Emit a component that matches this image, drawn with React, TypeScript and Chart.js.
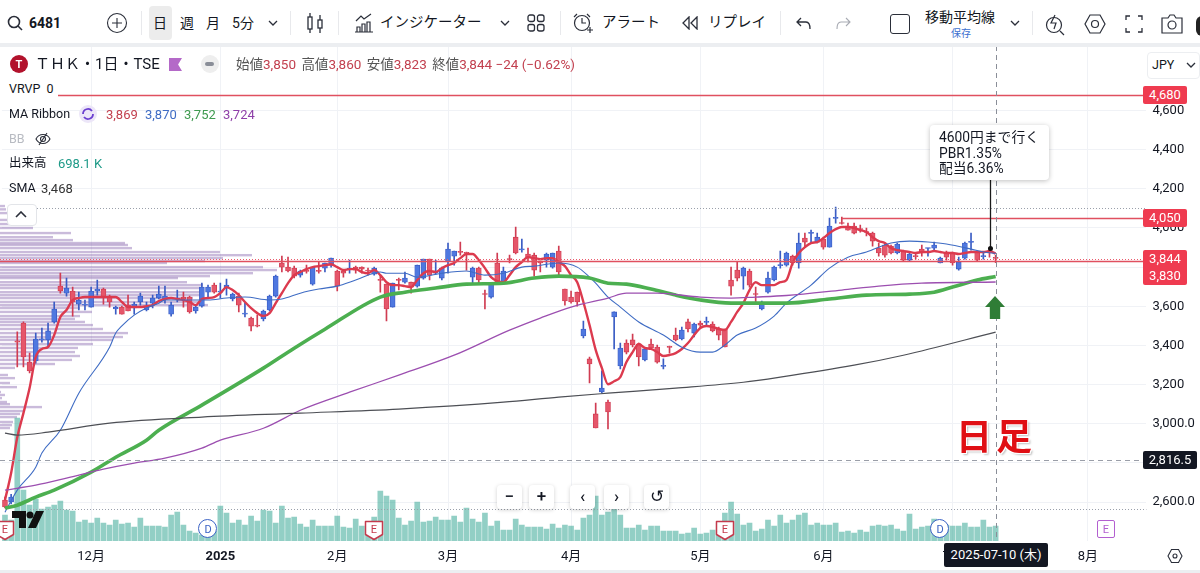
import { useEffect, useRef } from "react";
import { Chart, registerables } from "chart.js";

Chart.register(...registerables);

// daily candles, oldest first (last one is 2025-07-10)
const opens = [2610,2600,3423,3514,3315,3321,3428,3428,3520,3703,3667,3678,3611,3606,3596,3678,3688,3647,3586,3596,3606,3591,3622,3581,3616,3642,3637,3560,3637,3647,3647,3576,3601,3672,3708,3672,3693,3637,3652,3560,3540,3504,3535,3581,3652,3821,3800,3795,3759,3782,3713,3782,3795,3810,3780,3780,3790,3800,3800,3785,3764,3736,3713,3596,3736,3723,3723,3703,3744,3841,3769,3744,3826,3856,3878,3873,3749,3795,3664,3647,3821,3718,3842,3953,3888,3867,3861,3831,3836,3800,3882,3688,3647,3672,3448,3331,3050,3162,3111,3545,3295,3412,3428,3407,3326,3407,3392,3293,3394,3453,3433,3520,3463,3514,3518,3509,3484,3484,3734,3785,3754,3780,3664,3586,3672,3734,3808,3810,3856,3821,3948,3972,3928,3943,3902,4049,4027,4010,4010,3996,3981,3974,3897,3913,3907,3872,3882,3836,3858,3892,3895,3897,3821,3877,3872,3790,3846,3926,3877,3854,3882,3850];
const highs = [2625,2640,3469,3520,3361,3463,3489,3514,3622,3769,3744,3698,3672,3632,3698,3734,3693,3657,3601,3601,3657,3622,3667,3622,3657,3703,3703,3622,3683,3672,3652,3606,3718,3708,3718,3718,3739,3667,3667,3616,3545,3555,3581,3657,3759,3856,3851,3805,3785,3810,3800,3826,3821,3846,3785,3785,3836,3805,3802,3795,3800,3759,3713,3718,3744,3775,3723,3810,3841,3841,3836,3800,3923,3882,3928,3877,3800,3800,3683,3718,3872,3800,3861,4005,3943,3897,3872,3831,3872,3872,3907,3688,3678,3672,3525,3341,3106,3270,3121,3571,3412,3428,3458,3412,3387,3433,3402,3331,3397,3489,3494,3535,3514,3525,3545,3520,3494,3484,3800,3826,3800,3790,3698,3627,3775,3805,3882,3877,3861,3974,3974,3989,3974,3953,4051,4107,4056,4025,4025,4015,4000,3979,3923,3923,3913,3923,3887,3872,3872,3913,3897,3928,3851,3882,3877,3851,3928,3974,3882,3872,3897,3860];
const lows = [2570,2590,3290,3290,3259,3310,3417,3397,3514,3667,3652,3550,3581,3581,3596,3657,3611,3596,3560,3560,3576,3560,3606,3576,3591,3637,3616,3550,3622,3596,3565,3565,3596,3647,3667,3642,3657,3627,3571,3545,3474,3494,3525,3576,3647,3775,3775,3745,3749,3769,3708,3769,3775,3800,3678,3749,3769,3769,3769,3759,3759,3672,3525,3596,3683,3718,3667,3698,3739,3734,3764,3734,3769,3810,3861,3785,3718,3718,3586,3642,3718,3713,3821,3867,3877,3826,3754,3775,3800,3795,3759,3606,3616,3601,3438,3208,2978,3157,2973,3382,3280,3356,3392,3295,3321,3382,3310,3280,3361,3423,3428,3469,3443,3489,3499,3469,3428,3392,3657,3729,3688,3698,3616,3581,3667,3729,3795,3805,3810,3795,3902,3923,3923,3892,3902,4025,4020,3989,3969,3979,3959,3907,3856,3851,3867,3867,3831,3831,3841,3856,3856,3887,3821,3836,3810,3785,3841,3887,3831,3841,3851,3823];
const closes = [2575,2625,3417,3341,3270,3433,3433,3474,3586,3678,3693,3622,3632,3611,3678,3688,3647,3622,3596,3560,3576,3611,3652,3601,3642,3662,3652,3606,3642,3637,3571,3596,3698,3698,3672,3678,3708,3662,3606,3565,3499,3499,3576,3652,3754,3800,3780,3754,3780,3778,3800,3778,3821,3846,3703,3769,3795,3785,3790,3780,3795,3732,3586,3718,3732,3744,3698,3810,3841,3759,3775,3795,3892,3882,3875,3870,3795,3734,3660,3713,3723,3780,3838,3872,3893,3851,3785,3821,3867,3872,3775,3627,3622,3622,3484,3305,2978,3182,3060,3571,3387,3366,3402,3341,3382,3387,3315,3297,3390,3428,3479,3484,3509,3504,3522,3474,3453,3392,3703,3744,3795,3708,3660,3616,3744,3800,3812,3872,3821,3923,3928,3976,3953,3902,4010,4053,4023,3989,3974,3992,3977,3933,3872,3861,3872,3918,3836,3867,3854,3872,3899,3913,3846,3851,3821,3826,3923,3930,3836,3858,3872,3844];
const volumes = [1209,977,5720,2372,1674,1953,1488,1581,1674,1860,1442,1395,884,977,837,1070,837,744,977,791,837,651,1070,698,698,698,651,1209,1349,744,465,372,279,465,465,1628,1302,837,977,744,1163,930,1442,1395,837,1628,1070,1116,791,651,977,698,698,698,1163,651,605,1023,698,837,1116,2325,2093,1907,1070,744,930,1814,884,930,1116,977,977,1163,884,1535,1023,884,1302,698,930,512,512,1023,744,651,651,651,558,791,605,744,698,512,1070,1209,2093,1209,1349,1488,1209,605,605,744,512,698,698,465,465,465,326,372,605,326,372,512,837,1302,1814,1256,744,837,465,558,977,698,1209,837,977,1209,1302,744,837,744,744,837,419,465,372,512,419,698,744,698,744,558,465,1256,558,651,698,1023,698,744,698,698,837,651,651,977,651,698];

// MA ribbon and SMA at these days
const fastMa = [2610,2748,2931,3054,3182,3341,3382,3392,3453,3545,3581,3632,3642,3647,3647,3647,3647,3647,3647,3622,3596,3596,3596,3601,3606,3627,3637,3642,3637,3632,3622,3606,3637,3642,3647,3667,3698,3683,3657,3622,3591,3565,3550,3565,3616,3667,3718,3759,3775,3790,3800,3805,3810,3815,3800,3785,3790,3790,3775,3769,3785,3759,3723,3708,3708,3703,3698,3734,3769,3780,3775,3795,3810,3821,3846,3867,3867,3836,3795,3749,3729,3723,3759,3800,3826,3851,3846,3841,3846,3846,3826,3805,3759,3723,3622,3504,3377,3285,3202,3217,3238,3315,3366,3407,3387,3382,3366,3346,3351,3361,3382,3412,3453,3489,3499,3494,3484,3479,3520,3571,3616,3683,3723,3708,3708,3708,3723,3734,3821,3872,3902,3923,3928,3948,3974,3994,4005,4005,4000,3989,3979,3953,3933,3923,3897,3887,3882,3877,3872,3877,3877,3882,3877,3872,3872,3867,3872,3877,3877,3877,3882,3869];
const blueDays = [0,2,5,6,9,12,17,18,19,21,23,25,26,30,33,36,39,43,45,48,51,54,57,61,62,65,67,71,75,78,81,84,86,90,93,95,96,98,100,103,107,110,113,115,117,119,122,125,127,131,134,137,140,144,147,150,153,157,159,161];
const blueMa = [2548,2661,2778,2850,2967,3156,3391,3463,3500,3555,3591,3616,3632,3632,3632,3642,3647,3632,3637,3667,3688,3703,3734,3775,3769,3769,3749,3769,3780,3759,3769,3800,3805,3821,3800,3749,3718,3647,3596,3520,3453,3391,3366,3366,3402,3453,3489,3550,3616,3708,3795,3851,3877,3923,3933,3928,3918,3892,3877,3870];
const greenDays = [0,2,5,8,14,18,23,25,32,42,47,52,61,65,70,75,81,86,90,95,98,101,105,109,113,118,122,127,134,140,147,151,154,158,161];
const greenMa = [2569,2584,2625,2661,2753,2829,2916,2967,3095,3284,3386,3483,3647,3672,3693,3713,3718,3744,3754,3744,3718,3713,3688,3657,3632,3616,3616,3616,3637,3657,3662,3672,3698,3734,3752];
const purpleDays = [0,5,10,16,21,26,32,35,42,48,56,64,73,82,87,92,98,101,106,113,118,122,127,136,142,149,161];
const purpleMa = [2661,2686,2722,2768,2799,2824,2875,2916,2977,3069,3161,3248,3350,3478,3540,3596,3642,3667,3667,3647,3642,3647,3655,3683,3703,3718,3724];
const smaDays = [0,2,7,17,32,48,64,81,90,98,109,120,126,138,146,161];
const smaLine = [2952,2942,2957,3003,3034,3054,3075,3110,3136,3156,3182,3212,3238,3299,3350,3468];

// visible range volume profile
const vrvpPrices = [4112,4095,4076,4041,4020,4000,3974,3953,3938,3923,3913,3897,3877,3861,3846,3831,3821,3800,3785,3769,3754,3744,3723,3708,3693,3672,3657,3642,3622,3606,3591,3571,3550,3535,3520,3504,3484,3463,3443,3428,3407,3387,3366,3346,3326,3305,3285,3249,3233,3208,3187,3162,3147,3131,3111,3100,3085,3065,3050,3034,3009,2993,2978];
const vrvpVolume = [5,6,7,27,30,33,71,53,73,125,128,132,220,252,223,205,167,263,277,253,210,178,187,203,200,203,200,193,200,208,80,92,80,75,85,93,103,128,123,113,93,78,75,80,72,55,15,8,15,10,17,1,5,2,7,10,42,23,20,17,13,12,10];

const priceTicks = [2600,2800,3000,3200,3400,3600,3800,4000,4200,4400,4600];
const decimalTicks = [2600,2800,3000];
const monthDays = [14,35,54,72,92,113,133,154,176];
const monthNames = ["12月","2025","2月","3月","4月","5月","6月","7月","8月"];

const SLOTS = 186;
const FONT = 'Roboto, "Noto Sans CJK JP", sans-serif';
const RED = "#e5566a";
const BLUE = "#4f78e0";

const xLabels = Array.from({ length: SLOTS }, (_, i) => {
  const k = monthDays.indexOf(i);
  return k >= 0 ? monthNames[k] : "";
});

const sparse = (days: number[], values: number[]) => {
  const out: (number | null)[] = new Array(SLOTS).fill(null);
  days.forEach((d, k) => (out[d] = values[k]));
  return out;
};

const overlays = {
  id: "overlays",
  beforeDatasetsDraw(chart: any) {
    const { ctx, scales } = chart;
    ctx.save();
    ctx.fillStyle = "rgba(128,92,170,0.42)";
    vrvpPrices.forEach((p, k) => {
      ctx.fillRect(0, scales.y.getPixelForValue(p) - 1.2, vrvpVolume[k], 2.4);
    });
    ctx.restore();
  },
  afterDatasetsDraw(chart: any) {
    const { ctx, scales, chartArea } = chart;
    const line = (x0: number, price: number, color: string, width: number, dash: number[]) => {
      const y = Math.round(scales.y.getPixelForValue(price)) + 0.5;
      ctx.strokeStyle = color;
      ctx.lineWidth = width;
      ctx.setLineDash(dash);
      ctx.beginPath();
      ctx.moveTo(x0, y);
      ctx.lineTo(chartArea.right, y);
      ctx.stroke();
    };
    ctx.save();
    line(0, 4680, "#e0505f", 1.5, []);
    line(scales.x.getPixelForValue(136), 4050, "#e0505f", 1.5, []);
    line(37, 4100, "#9aa0ab", 1, [1, 2]);
    line(0, 3844, "#ea5c6e", 1, [1, 2]);
    line(0, 3830, "#e0505f", 1.5, []);
    line(30, 2565, "#9aa0ab", 1, [1, 2]);
    line(0, 2816.5, "#9a9ea8", 1, [5, 4]);
    // crosshair on the last bar
    const cx = Math.round(scales.x.getPixelForValue(161)) + 0.5;
    ctx.strokeStyle = "#8a8e98";
    ctx.lineWidth = 1;
    ctx.setLineDash([5, 4]);
    ctx.beginPath();
    ctx.moveTo(cx, chartArea.top);
    ctx.lineTo(cx, chartArea.bottom);
    ctx.stroke();
    // callout stem down to the bar before it
    const sx = scales.x.getPixelForValue(160) + 1;
    const sy = scales.y.getPixelForValue(3895);
    ctx.setLineDash([]);
    ctx.strokeStyle = "#1a1a1a";
    ctx.lineWidth = 1.3;
    ctx.beginPath();
    ctx.moveTo(sx, 178);
    ctx.lineTo(sx, sy);
    ctx.stroke();
    ctx.fillStyle = "#111";
    ctx.beginPath();
    ctx.arc(sx, sy, 2.5, 0, Math.PI * 2);
    ctx.fill();
    ctx.restore();
  },
};

function T({ x, y, size = 13, color = "#131722", weight = 400, center, children, style }: any) {
  return (
    <div
      style={{
        position: "absolute",
        left: x,
        top: y,
        fontSize: size,
        color,
        fontWeight: weight,
        lineHeight: 1,
        whiteSpace: "nowrap",
        transform: `translate(${center ? "-50%" : "0"},-50%)`,
        ...style,
      }}
    >
      {children}
    </div>
  );
}

function Icon({ x, y, w = 22, h = 22, vb = "0 0 22 22", sw = 1.4, stroke = "#2a2e39", children }: any) {
  return (
    <svg
      width={w}
      height={h}
      viewBox={vb}
      fill="none"
      stroke={stroke}
      strokeWidth={sw}
      style={{ position: "absolute", left: x - w / 2, top: y - h / 2 }}
    >
      {children}
    </svg>
  );
}

function Sep({ x }: { x: number }) {
  return <div style={{ position: "absolute", left: x, top: 11, width: 1, height: 24, background: "#e8e9ec" }} />;
}

function Chevron({ x, y = 23 }: { x: number; y?: number }) {
  return (
    <Icon x={x} y={y} w={10} h={6} vb="0 0 10 6" sw={1.3}>
      <path d="M1 1l4 4 4-4" />
    </Icon>
  );
}

function PriceTag({ y, h = 18, w = 44, bg = "#ef3b50", children }: any) {
  return (
    <div
      style={{
        position: "absolute",
        left: 1143,
        top: y,
        width: w,
        height: h,
        background: bg,
        color: "#fff",
        fontSize: 13,
        lineHeight: "18px",
        textAlign: "center",
        borderRadius: 2,
      }}
    >
      {children}
    </div>
  );
}

function Earnings({ x, color = "#c43a4c" }: { x: number; color?: string }) {
  return (
    <>
      <svg width={20} height={21} viewBox="0 0 20 21" style={{ position: "absolute", left: x - 10, top: 520 }}>
        <path d="M1.5 1.5h17v13l-8.500 5-8.500-5z" fill="#fff" stroke={color} strokeWidth={1.5} strokeLinejoin="round" />
      </svg>
      <T x={x} y={529} size={11} color={color} center>E</T>
    </>
  );
}

function Dividend({ x }: { x: number }) {
  return (
    <>
      <div
        style={{
          position: "absolute",
          left: x - 10,
          top: 519,
          width: 17,
          height: 17,
          borderRadius: "50%",
          border: "1.5px solid #3b62c4",
          background: "#fff",
        }}
      />
      <T x={x} y={529} size={11} color="#3b62c4" center>D</T>
    </>
  );
}

function NavButton({ x, children }: any) {
  return (
    <div
      style={{
        position: "absolute",
        left: x - 12,
        top: 485,
        width: 25,
        height: 24,
        background: "#fff",
        borderRadius: 4,
        boxShadow: "0 1px 4px rgba(0,0,0,.18)",
        textAlign: "center",
        lineHeight: "23px",
        fontSize: 17,
        fontWeight: 500,
        color: "#131722",
      }}
    >
      {children}
    </div>
  );
}

export default function App() {
  const canvasRef = useRef<HTMLCanvasElement>(null);

  useEffect(() => {
    if (!canvasRef.current) return;
    const upColor = closes.map((c, i) => (c >= opens[i] ? BLUE : RED));
    const edgeColor = closes.map((c, i) => (c >= opens[i] ? "#3a5cc4" : "#d03c52"));
    const lineSet = (label: string, data: (number | null)[], color: string, width: number) => ({
      type: "line" as const,
      label,
      data,
      borderColor: color,
      borderWidth: width,
      pointRadius: 0,
      spanGaps: true,
      cubicInterpolationMode: "monotone" as const,
      order: 0,
      yAxisID: "y",
    });

    const chart = new Chart(canvasRef.current, {
      data: {
        labels: xLabels,
        datasets: [
          {
            type: "bar",
            label: "出来高",
            data: volumes,
            backgroundColor: "rgba(38,160,140,0.5)",
            barThickness: 5,
            grouped: false,
            order: 4,
            yAxisID: "vol",
          },
          {
            type: "bar",
            label: "wick",
            data: lows.map((l, i) => [l, highs[i]]),
            backgroundColor: edgeColor,
            barThickness: 1,
            grouped: false,
            order: 3,
            yAxisID: "y",
          },
          {
            type: "bar",
            label: "body",
            data: opens.map((o, i) => [o, closes[i]]),
            backgroundColor: upColor,
            borderColor: edgeColor,
            borderWidth: 0.8,
            borderSkipped: false,
            barThickness: 5,
            grouped: false,
            minBarLength: 1,
            order: 2,
            yAxisID: "y",
          },
          lineSet("SMA", sparse(smaDays, smaLine), "#4d4f55", 1.2),
          lineSet("MA4", sparse(purpleDays, purpleMa), "#9c4fb0", 1.3),
          lineSet("MA3", sparse(greenDays, greenMa), "#4caf50", 3.6),
          lineSet("MA2", sparse(blueDays, blueMa), "#3f6cc4", 1.1),
          lineSet("MA1", fastMa, "#dc3a4e", 2.4),
        ] as any,
      },
      options: {
        animation: false,
        responsive: false,
        layout: { padding: { left: 1.9, top: 46, right: 0, bottom: 0 } },
        plugins: { legend: { display: false }, tooltip: { enabled: false } },
        scales: {
          x: {
            offset: true,
            grid: { color: "#f0f2f6", offset: false, drawTicks: false },
            border: { display: false },
            afterBuildTicks: (s: any) => {
              s.ticks = monthDays.map((v) => ({ value: v }));
            },
            afterFit: (s: any) => {
              s.height = 32;
            },
            ticks: {
              autoSkip: false,
              maxRotation: 0,
              padding: 8,
              color: "#131722",
              font: (ctx: any) => ({
                family: FONT,
                size: 13,
                weight: ctx.tick && ctx.tick.label === "2025" ? "bold" : "normal",
              }),
            },
          },
          y: {
            position: "right",
            min: 2401,
            max: 4929.5,
            grid: { color: "#f0f2f6", drawTicks: false },
            border: { display: false },
            afterBuildTicks: (s: any) => {
              s.ticks = priceTicks.map((v) => ({ value: v }));
            },
            afterFit: (s: any) => {
              s.width = 53.6;
            },
            ticks: {
              padding: 6,
              color: "#131722",
              font: { family: FONT, size: 13 },
              callback: (v: any) =>
                Number(v).toLocaleString("en-US", { minimumFractionDigits: decimalTicks.includes(Number(v)) ? 1 : 0 }),
            },
          },
          vol: { display: false, min: 0, max: 23018 },
        },
      },
      plugins: [overlays],
    } as any);
    return () => chart.destroy();
  }, []);

  return (
    <div
      style={{
        position: "fixed",
        left: 0,
        top: 0,
        width: 1200,
        height: 573,
        overflow: "hidden",
        background: "#fff",
        fontFamily: FONT,
        color: "#131722",
      }}
    >
      <canvas ref={canvasRef} width={1200} height={573} style={{ position: "absolute", left: 0, top: 0 }} />

      {/* toolbar */}
      <div style={{ position: "absolute", left: 0, top: 0, width: 1200, height: 43, background: "#fff" }} />
      <div style={{ position: "absolute", left: 0, top: 43, width: 1200, height: 4, background: "#eceef1" }} />
      <div style={{ position: "absolute", left: 0, top: 570, width: 1200, height: 3, background: "#eceef1" }} />

      <Icon x={15} y={23} w={16} h={16} vb="0 0 16 16" sw={1.6}>
        <circle cx="7" cy="7" r="5.500" />
        <path d="M11 11l4 4" />
      </Icon>
      <T x={29} y={23} size={14} weight={700}>6481</T>
      <Icon x={117} y={23} w={22} h={22} sw={1.1}>
        <circle cx="11" cy="11" r="9.500" />
        <path d="M11 6v10M6 11h10" />
      </Icon>
      <Sep x={141} />
      <div style={{ position: "absolute", left: 149, top: 6, width: 23, height: 34, background: "#ececec", borderRadius: 4 }} />
      <T x={160} y={23} size={14} center>日</T>
      <T x={187} y={23} size={14} center>週</T>
      <T x={213} y={23} size={14} center>月</T>
      <T x={243} y={23} size={14} center>5分</T>
      <Chevron x={273} />
      <Sep x={290} />
      <Icon x={315} y={23} w={20} h={24} vb="0 0 20 24" sw={1.3}>
        <rect x="3" y="6" width="4" height="12" />
        <path d="M5 2v4M5 18v4" />
        <rect x="13" y="9" width="4" height="8" />
        <path d="M15 4v5M15 17v5" />
      </Icon>
      <Sep x={338} />
      <Icon x={364} y={23} w={20} h={22} vb="0 0 20 22" sw={1.2}>
        <path d="M2 9l5-5 3 3 7-5" />
        <path d="M1 20h18M3 20v-5h3v5M8 20v-8h3v8M13 20v-10h3v10" />
      </Icon>
      <T x={380} y={23} size={14.500}>インジケーター</T>
      <Chevron x={505} />
      <Icon x={536} y={23} w={18} h={18} vb="0 0 18 18" sw={1.3}>
        <rect x="1" y="1" width="6.500" height="6.500" rx="2" />
        <rect x="10.500" y="1" width="6.500" height="6.500" rx="2" />
        <rect x="1" y="10.500" width="6.500" height="6.500" rx="2" />
        <rect x="10.500" y="10.500" width="6.500" height="6.500" rx="2" />
      </Icon>
      <Sep x={560} />
      <Icon x={583} y={23} w={22} h={22} sw={1.2}>
        <circle cx="10" cy="11" r="7.500" />
        <path d="M10 6v5h4M2 5l3-3M18 5l-3-3M15 18h6M18 15v6" />
      </Icon>
      <T x={602} y={23} size={14.500}>アラート</T>
      <Icon x={690} y={23} w={18} h={14} vb="0 0 18 14" sw={1.3}>
        <path d="M8 1L2 7l6 6zM16 1l-6 6 6 6z" />
      </Icon>
      <T x={708} y={23} size={14.500}>リプレイ</T>
      <Sep x={780} />
      <Icon x={804} y={24} w={16} h={14} vb="0 0 16 14" sw={1.3}>
        <path d="M5 1L1 5l4 4M1 5h9c3 0 4 3 4 7" />
      </Icon>
      <Icon x={843} y={24} w={16} h={14} vb="0 0 16 14" sw={1.1} stroke="#a8abb3">
        <path d="M11 1l4 4-4 4M15 5H6c-3 0-4 3-4 7" />
      </Icon>
      <div style={{ position: "absolute", left: 890, top: 14, width: 18, height: 18, border: "1.2px solid #2a2e39", borderRadius: 3 }} />
      <T x={925} y={17} size={14}>移動平均線</T>
      <T x={951} y={34} size={10} color="#3b6fd0">保存</T>
      <Chevron x={1015} />
      <Sep x={1032} />
      <Icon x={1055} y={24} w={22} h={24} vb="0 0 22 24" sw={1.2}>
        <circle cx="10" cy="13" r="7.500" />
        <path d="M16 19l4 4M11 3l-4 8h5l-2 6" />
      </Icon>
      <Icon x={1095} y={24} w={22} h={22} sw={1.2}>
        <path d="M6 2h10l5 9-5 9H6l-5-9z" />
        <circle cx="11" cy="11" r="3.500" />
      </Icon>
      <Icon x={1134} y={24} w={18} h={18} vb="0 0 18 18" sw={1.3}>
        <path d="M1 5V1h4M13 1h4v4M17 13v4h-4M5 17H1v-4" />
      </Icon>
      <Icon x={1172} y={24} w={22} h={20} vb="0 0 22 20" sw={1.2}>
        <path d="M1 4h6l2-3h4l2 3h6v15H1z" />
        <circle cx="11" cy="11" r="4" />
      </Icon>
      <div style={{ position: "absolute", left: 1196, top: 16, width: 12, height: 20, borderRadius: 10, background: "#222" }} />

      {/* legend */}
      <div style={{ position: "absolute", left: 10, top: 55, width: 18, height: 18, borderRadius: "50%", background: "#b2122c" }} />
      <T x={19} y={64} size={11} color="#fff" weight={700} center>T</T>
      <T x={35} y={64} size={15}>ＴＨＫ・1日・TSE</T>
      <div
        style={{
          position: "absolute",
          left: 169,
          top: 58,
          width: 13,
          height: 13,
          background: "#b469c8",
          clipPath: "polygon(0 0,100% 0,70% 50%,100% 100%,0 100%)",
        }}
      />
      <div style={{ position: "absolute", left: 201, top: 55, width: 18, height: 18, borderRadius: "50%", background: "#eeeeee" }} />
      <div style={{ position: "absolute", left: 205, top: 62, width: 9, height: 4, borderRadius: 2, background: "#8a8e98" }} />
      <div style={{ position: "absolute", left: 236, top: 56, fontSize: 13.500, lineHeight: "16px", whiteSpace: "nowrap", color: "#c2404f" }}>
        <span style={{ color: "#555" }}>始値</span>3,850{" "}
        <span style={{ color: "#555", marginLeft: 2 }}>高値</span>3,860{" "}
        <span style={{ color: "#555", marginLeft: 2 }}>安値</span>3,823{" "}
        <span style={{ color: "#555", marginLeft: 2 }}>終値</span>3,844 −24 (−0.62%)
      </div>
      <T x={0} y={89} size={12.500} style={{ background: "#fff", padding: "2px 4px 2px 9px" }}>VRVP&nbsp; 0</T>
      <T x={9} y={114} size={12.500}>MA Ribbon</T>
      <div style={{ position: "absolute", left: 79, top: 105, width: 18, height: 18, borderRadius: "50%", background: "#ece6f8" }} />
      <Icon x={88} y={114} w={12} h={12} vb="0 0 12 12" sw={1.8} stroke="#6b3fd0">
        <path d="M1 6a5 5 0 0 1 9-3M11 6a5 5 0 0 1-9 3" />
      </Icon>
      <T x={106} y={114} size={13} color="#c2404f">3,869</T>
      <T x={145} y={114} size={13} color="#3f6cc4">3,870</T>
      <T x={184} y={114} size={13} color="#3f9a50">3,752</T>
      <T x={223} y={114} size={13} color="#8e3fa8">3,724</T>
      <T x={9} y={139} size={12.500} color="#b8bbc2">BB</T>
      <Icon x={43} y={139} w={16} h={14} vb="0 0 16 14" sw={1.1}>
        <path d="M1 7c3-6 11-6 14 0-3 6-11 6-14 0zM4 13L12 1" />
        <circle cx="8" cy="7" r="2.500" />
      </Icon>
      <T x={9} y={163} size={12.500}>出来高</T>
      <T x={58} y={163} size={13} color="#1f9a88">698.1 K</T>
      <T x={9} y={188} size={12.500}>SMA</T>
      <T x={41} y={188} size={13} color="#333">3,468</T>
      <div style={{ position: "absolute", left: 7, top: 204, width: 28, height: 20, background: "#fff", border: "1px solid #e3e5e9", borderRadius: 4 }} />
      <Icon x={21} y={214} w={12} h={7} vb="0 0 12 7" sw={1.6}>
        <path d="M1 6l5-5 5 5" />
      </Icon>
      <div style={{ position: "absolute", left: 1147, top: 52, width: 51, height: 25, background: "#fff", border: "1px solid #eceef1", borderRadius: 4 }} />
      <T x={1152} y={65} size={12.500}>JPY</T>
      <Chevron x={1191} y={65} />

      {/* price tags */}
      <PriceTag y={86}>4,680</PriceTag>
      <PriceTag y={209}>4,050</PriceTag>
      <PriceTag y={250} h={35}>
        <div style={{ lineHeight: "17px" }}>3,844</div>
        <div style={{ lineHeight: "17px" }}>3,830</div>
      </PriceTag>
      <PriceTag y={451} w={54} bg="#131722">2,816.5</PriceTag>

      {/* annotations */}
      <div
        style={{
          position: "absolute",
          left: 930,
          top: 125,
          width: 119,
          height: 55,
          background: "#fff",
          borderRadius: 4,
          boxShadow: "0 1px 5px rgba(0,0,0,.25)",
          fontSize: 13.800,
          lineHeight: "15.500px",
          padding: "5px 0 0 9px",
          boxSizing: "border-box",
          whiteSpace: "nowrap",
        }}
      >
        4600円まで行く
        <br />
        PBR1.35%
        <br />
        配当6.36%
      </div>
      <div
        style={{
          position: "absolute",
          left: 985,
          top: 296,
          width: 20,
          height: 23,
          background: "#2f7d36",
          clipPath: "polygon(50% 0,100% 48%,76% 48%,76% 100%,24% 100%,24% 48%,0 48%)",
        }}
      />
      <T
        x={956}
        y={434}
        size={36}
        color="#e00f14"
        weight={700}
        style={{
          letterSpacing: 4,
          fontFamily: '"Noto Sans CJK JP"',
          textShadow: "1px 1px 0 #fff,-1px -1px 0 #fff,1px -1px 0 #fff,-1px 1px 0 #fff,2px 2px 2px rgba(0,0,0,.25)",
        }}
      >
        日足
      </T>

      {/* markers on the time axis */}
      <Earnings x={5} />
      <Earnings x={374} />
      <Earnings x={725} />
      <div style={{ position: "absolute", left: 1097, top: 520, width: 16, height: 16, border: "1.5px solid #b35fd0", borderRadius: 2, background: "#fff" }} />
      <T x={1106} y={529} size={11} color="#b35fd0" center>E</T>
      <Dividend x={208} />
      <Dividend x={940} />
      <svg width={32} height={17} viewBox="0 0 32 17" style={{ position: "absolute", left: 12, top: 511 }}>
        <path d="M0 0h14v17H7V7H0zM32 0L24 17h-8l8-17z" fill="#111" />
        <circle cx="18" cy="4" r="3.500" fill="#111" />
      </svg>
      <NavButton x={509}>−</NavButton>
      <NavButton x={541}>+</NavButton>
      <NavButton x={582}>‹</NavButton>
      <NavButton x={616}>›</NavButton>
      <NavButton x={656}>↺</NavButton>

      <div
        style={{
          position: "absolute",
          left: 944,
          top: 543,
          width: 104,
          height: 24,
          background: "#131722",
          color: "#fff",
          fontSize: 13,
          lineHeight: "24px",
          textAlign: "center",
          borderRadius: 2,
        }}
      >
        2025-07-10 (木)
      </div>
      <Icon x={1175} y={556} w={16} h={16} vb="0 0 16 16" sw={1.1}>
        <path d="M4.500 1.500h7L15 8l-3.500 6.500h-7L1 8z" />
        <circle cx="8" cy="8" r="2" />
      </Icon>
    </div>
  );
}
